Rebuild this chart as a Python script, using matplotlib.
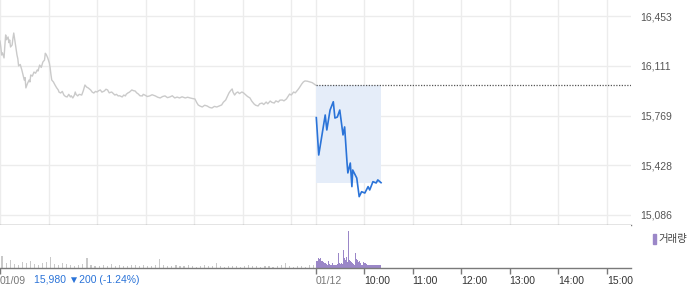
import numpy as np
import matplotlib
matplotlib.use("Agg")
import matplotlib.pyplot as plt
from matplotlib.transforms import blended_transform_factory

# ---- data ----
# day 1 (01/09): minutes after 09:00, index value
d1_min = [0, 1, 2, 3, 5, 6, 7, 8, 10, 11, 12, 13, 15, 16, 17, 19, 21, 22, 23, 25,
          27, 28, 30, 31, 32, 34, 36, 37, 38, 40, 42, 44, 46, 47, 49, 51, 53, 55, 56, 57,
          59, 61, 62, 63, 64, 66, 68, 70, 72, 73, 75, 77, 79, 81, 83, 85, 87, 88, 90, 92,
          93, 94, 96, 98, 101, 103, 105, 107, 109, 111, 112, 114, 116, 118, 120, 122,
          124, 126, 129, 131, 133, 135, 138, 140, 142, 144, 146, 148, 151, 153, 155, 156,
          158, 160, 163, 165, 167, 169, 171, 173, 176, 177, 179, 182, 185, 188, 192, 195,
          198, 201, 204, 207, 210, 213, 216, 219, 222, 225, 229, 232, 235, 238, 241, 243,
          245, 247, 250, 253, 256, 259, 262, 265, 268, 271, 274, 276, 279, 281, 283, 285,
          287, 288, 290, 292, 294, 296, 299, 301, 304, 306, 309, 311, 314, 316, 319, 321,
          324, 326, 329, 331, 334, 336, 339, 341, 344, 346, 349, 351, 354, 356, 358, 360,
          363, 365, 368, 370, 373, 375, 377, 380, 383, 386, 390]
d1_val = [16281, 16240, 16185, 16200, 16165, 16250, 16323, 16290, 16309, 16270,
          16288, 16240, 16254, 16300, 16336, 16260, 16185, 16160, 16110, 16120,
          16082, 16060, 16013, 16030, 15959, 15990, 16013, 16000, 16048, 16040,
          16068, 16060, 16082, 16075, 16116, 16100, 16137, 16150, 16197, 16190,
          16165, 16130, 16096, 16050, 16013, 16000, 15979, 15960, 15945, 15930,
          15924, 15935, 15910, 15900, 15897, 15915, 15897, 15905, 15890, 15910,
          15931, 15915, 15904, 15915, 15910, 15940, 15979, 15965, 15959, 15950,
          15945, 15930, 15924, 15935, 15931, 15940, 15945, 15930, 15938, 15950,
          15945, 15925, 15931, 15920, 15910, 15915, 15904, 15905, 15897, 15910,
          15904, 15915, 15924, 15930, 15945, 15940, 15938, 15925, 15917, 15905,
          15904, 15915, 15910, 15900, 15904, 15912, 15904, 15895, 15890, 15900,
          15904, 15892, 15897, 15905, 15890, 15896, 15890, 15898, 15890, 15895,
          15890, 15886, 15883, 15860, 15842, 15835, 15828, 15840, 15835, 15825,
          15821, 15832, 15828, 15835, 15842, 15860, 15876, 15900, 15924, 15940,
          15952, 15930, 15910, 15925, 15931, 15920, 15931, 15925, 15910, 15900,
          15890, 15870, 15849, 15840, 15835, 15850, 15855, 15845, 15862, 15850,
          15869, 15860, 15855, 15870, 15862, 15875, 15876, 15870, 15883, 15900,
          15917, 15910, 15931, 15925, 15945, 15960, 15986, 16000, 16007, 16005,
          16000, 15995, 15979]

# day 2 (01/12)
d2_min = [1, 4, 7, 12, 14, 18, 22, 24, 27, 30, 34, 36, 39, 40, 43, 45, 46, 51, 54,
          57, 61, 65, 67, 71, 75, 77, 81]
d2_val = [15755, 15498, 15601, 15773, 15670, 15807, 15864, 15752, 15759, 15807, 15636,
          15691, 15443, 15375, 15443, 15281, 15395, 15340, 15212, 15246, 15237, 15281,
          15258, 15315, 15306, 15327, 15308]

prev_close = 15979

# volume, day 1 every 5 minutes
d1_vol = [12, 5, 8, 4, 3, 6, 5, 7, 4, 3, 5, 6, 11, 4, 3, 5, 4, 3, 2, 3,
          4, 10, 3, 2, 2, 3, 2, 4, 2, 3, 2, 2, 3, 3, 2, 3, 2, 2, 3, 9,
          3, 2, 2, 3, 2, 2, 3, 2, 1, 2, 3, 2, 2, 5, 2, 1, 2, 2, 2, 1,
          2, 3, 2, 2, 1, 2, 2, 1, 2, 3, 5, 2, 1, 2, 2, 1, 3, 3]
# volume, day 2 every minute
d2_vol = [11, 7, 7, 10, 9, 8, 10, 7, 7, 6, 6, 5, 5, 4, 3, 3, 7, 4, 3, 3,
          7, 5, 3, 3, 3, 3, 3, 4, 15, 5, 4, 6, 5, 4, 18, 10, 13, 8, 11, 6,
          37, 9, 8, 7, 6, 5, 4, 3, 3, 15, 9, 8, 7, 6, 7, 5, 3, 3, 3, 6,
          5, 5, 4, 4, 3, 3, 3, 3, 3, 3, 3, 3, 3, 3, 3, 3, 3, 3, 3, 3, 3]

price_ticks = [15086, 15428, 15769, 16111, 16453]
price_labels = ["15,086", "15,428", "15,769", "16,111", "16,453"]
time_ticks = ["01/09", "01/12", "10:00", "11:00", "12:00", "13:00", "14:00", "15:00"]
footer = "15,980 \u25bc200 (-1.24%)"

# ---- figure ----
plt.rcParams['font.family'] = ['Liberation Sans', 'DejaVu Sans']
fig = plt.figure(figsize=(7.0, 2.89), dpi=100)
W, H = 700.0, 289.0
ax = fig.add_axes([0, (H - 225) / H, 631 / W, 225 / H])
axv = fig.add_axes([0, (H - 268) / H, 631 / W, 43 / H])

x1 = np.array(d1_min) / 60.0
x2 = 6.5 + np.array(d2_min) / 60.0

grid_c = '#ececec'
for h in list(range(0, 7)) + [6.5 + i for i in range(7)]:
    ax.axvline(h, color=grid_c, lw=1, zorder=0)
for p in price_ticks:
    ax.axhline(p, color=grid_c, lw=1, zorder=0)

# box from previous close down to the latest price
ax.fill_between([6.5, x2[-1]], d2_val[-1], prev_close, color='#e5edf9', lw=0, zorder=1)
ax.plot(x1, d1_val, color='#cacaca', lw=1, zorder=2)
ax.plot(x2, d2_val, color='#2a73d8', lw=1.2, zorder=3)
ax.plot([6.5, 13], [prev_close, prev_close], color='#555555', lw=0.9,
        ls=(0, (1, 1.2)), zorder=2)

ax.set_xlim(0, 13)
ax.set_ylim(16453 - 209 * 1367 / 199.0, 16453 + 16 * 1367 / 199.0)
ax.yaxis.tick_right()
ax.set_yticks(price_ticks)
ax.set_yticklabels(price_labels)
ax.tick_params(axis='y', length=0, pad=6.5, labelsize=7.5, labelcolor='#555555')
ax.set_xticks([])
for s in ['top', 'left', 'right']:
    ax.spines[s].set_visible(False)
ax.spines['bottom'].set_color('#7a7a7a')
ax.spines['bottom'].set_linewidth(1)
ax.patch.set_alpha(0)

# volume
xv1 = np.arange(len(d1_vol)) * 5 / 60.0 + 2.5 / 60.0
xv2 = 6.5 + np.arange(len(d2_vol)) / 60.0 + 0.5 / 60.0
axv.bar(xv1, d1_vol, width=1.4 / 60.0, color='#c9c9c9', lw=0)
axv.bar(xv2, d2_vol, width=1.0 / 60.0, color='#9b87c8', lw=0)
axv.set_xlim(0, 13)
axv.set_ylim(0, 43)
axv.set_yticks([])
for s in ['top', 'left', 'right']:
    axv.spines[s].set_visible(False)
axv.spines['bottom'].set_color('#7a7a7a')
axv.spines['bottom'].set_linewidth(1)

tick_pos = [0, 6.5] + [7.5 + i for i in range(6)]
axv.set_xticks(tick_pos)
axv.set_xticklabels(time_ticks, ha='left')
axv.tick_params(axis='x', length=4, width=1, color='#7a7a7a', pad=2,
                labelsize=7.5, labelcolor='#333333')
for lab in axv.get_xticklabels()[:2]:
    lab.set_color('#777777')

tr = blended_transform_factory(axv.transData, fig.transFigure)
axv.text(34 / 48.54, (H - 280) / H, footer, transform=tr, fontsize=7.5,
         color='#2a73d8', ha='left', va='center')

# volume legend
fig.patches.append(plt.Rectangle((653 / W, (H - 244) / H), 2.5 / W, 10 / H,
                                 transform=fig.transFigure, color='#9b87c8'))
fig.text(658 / W, (H - 239) / H, "거래량", fontsize=7.5, color='#444444',
         va='center', ha='left', family=['Noto Sans CJK KR', 'DejaVu Sans'])

fig.savefig('out.png', dpi=100)
